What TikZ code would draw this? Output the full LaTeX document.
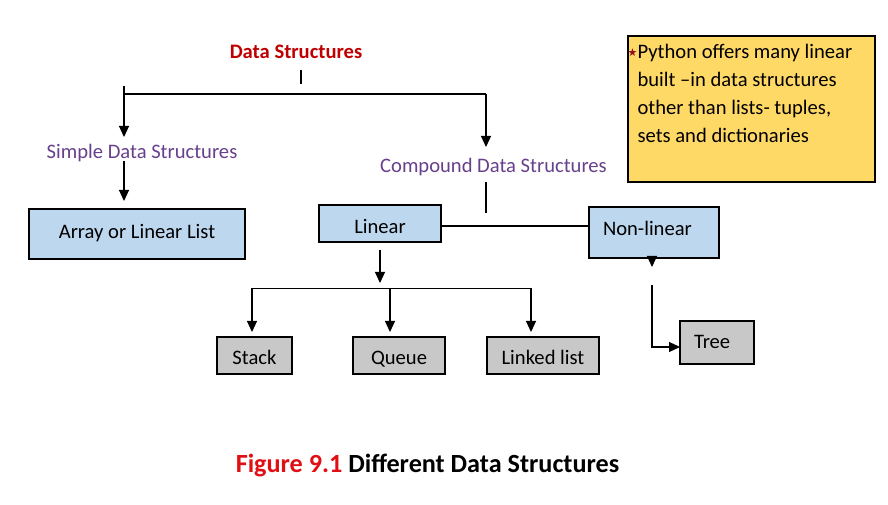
\documentclass[tikz,border=0pt]{standalone}
\usepackage{fontspec}
\setmainfont{Carlito}
\newfontfamily\starfont{DejaVu Sans}
\usetikzlibrary{arrows.meta}
\begin{document}
\begin{tikzpicture}[x=1pt,y=1pt,line width=1.1pt,
  tip/.style={-{Triangle[width=10pt,length=11pt]}},
  lbl/.style={anchor=base,inner sep=0pt,outer sep=0pt,font=\fontsize{20.6}{24}\selectfont},
  box/.style={draw=black,inner sep=0pt,outer sep=0pt,text depth=0pt,font=\fontsize{20.6}{24}\selectfont},
  bluebox/.style={box,fill=boxBlue},
  graybox/.style={box,fill=boxGray}]
\definecolor{fillColor}{RGB}{255,255,255}
\definecolor{dsRed}{RGB}{192,0,0}
\definecolor{capRed}{RGB}{225,15,20}
\definecolor{subPurple}{RGB}{104,64,140}
\definecolor{boxBlue}{RGB}{189,215,238}
\definecolor{boxGray}{RGB}{200,200,200}
\definecolor{noteYellow}{RGB}{255,217,102}
\definecolor{starRed}{RGB}{140,15,25}
\path[use as bounding box,fill=fillColor] (0,0) rectangle (888,505);

% titles
\node (ds) [lbl,font=\bfseries\fontsize{20.6}{24}\selectfont,text=dsRed] at (296,446.5) {Data Structures};
\node (sds) [lbl,text=subPurple] at (142,346.5) {Simple Data Structures};
\node (cds) [lbl,text=subPurple] at (493.5,332) {Compound Data Structures};

% boxes
\node (arr) [bluebox,text height=9pt,minimum width=216pt,minimum height=50pt] at (137,271) {Array or Linear List};
\node (lin) [bluebox,text height=21pt,minimum width=122pt,minimum height=37pt] at (380,281.5) {Linear};
\node (nonlin) [bluebox,text height=6pt,minimum width=130pt,minimum height=51pt,text width=102pt,inner xsep=14pt,align=left] at (654,272.5) {Non-linear};
\node (stack) [graybox,text height=18pt,minimum width=75pt,minimum height=37pt] at (254.5,149.5) {Stack};
\node (queue) [graybox,text height=18pt,minimum width=92pt,minimum height=37pt] at (399,149.5) {Queue};
\node (linked) [graybox,text height=18pt,minimum width=112pt,minimum height=37pt] at (543,149.5) {Linked list};
\node (tree) [graybox,text height=12pt,minimum width=74pt,minimum height=43pt,text width=46pt,inner xsep=14pt,align=left] at (717,162.5) {Tree};

% note
\node (note) [draw=black,fill=noteYellow,inner sep=0pt,minimum width=247pt,minimum height=146pt] at (751.5,396) {};
\node (notetext) [anchor=base west,align=left,inner sep=0pt,font=\fontsize{20.6}{28}\selectfont] at (637,362.5)
  {\llap{\raisebox{2pt}{\starfont\fontsize{11}{11}\selectfont\textcolor{starRed}{★}}}Python offers many linear\\built –in data structures\\other than lists- tuples,\\sets and dictionaries};

% connectors
\coordinate (dstick) at (301,435);
\coordinate (leftdrop) at (124,419);
\coordinate (rightdrop) at (486,411);
\coordinate (sdsout) at (124,344);
\coordinate (cdsout) at (486,323);
\coordinate (linsplit) at (252,216.5);
\coordinate (treedrop) at (652,220);
\draw (dstick) -- ++(0,-14);
\draw[tip] (leftdrop) -- (124,368);
\draw (leftdrop |- rightdrop) -- (rightdrop);
\draw[tip] (rightdrop) -- (486,358);
\draw[tip,shorten >=8pt] (sdsout) -- (sdsout |- arr.north);
\draw[shorten >=10pt] (cdsout) -- (cdsout |- lin.east);
\draw ([yshift=-2.5pt]lin.east) -- ([yshift=-2.5pt]lin.east -| nonlin.west);
\draw[tip,shorten <=8pt,shorten >=5.5pt] (lin.south) -- (lin.south |- linsplit);
\draw (linsplit) -- (531,216.5);
\foreach \x/\n in {252/stack,390/queue,531/linked}
  \draw[tip,shorten >=5pt] (\x,216.5) -- (\x,0 |- \n.north);
\draw[tip] (652,0 |- nonlin.south) -- ++(0,-9);
\draw[tip] (treedrop) |- ([yshift=-4.5pt]tree.west);

% caption
\node (caption) [lbl,font=\bfseries\fontsize{26.2}{30}\selectfont] at (427.5,32) {\textcolor{capRed}{Figure 9.1} Different Data Structures};
\end{tikzpicture}
\end{document}
